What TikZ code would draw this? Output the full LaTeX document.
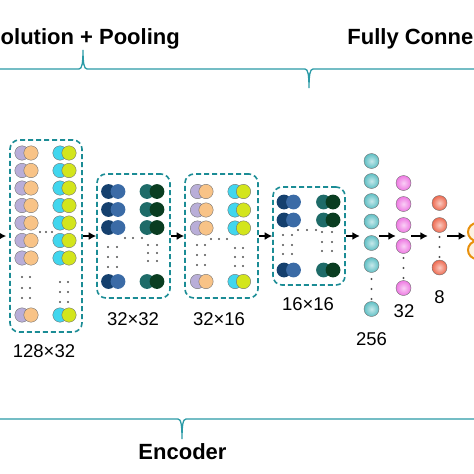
\documentclass[tikz,border=0pt]{standalone}
\usepackage{fontspec}
\setmainfont{Liberation Sans}
\usepackage{xcolor}
\usepackage{tikz}
\usetikzlibrary{arrows.meta,positioning}

\definecolor{lav}{HTML}{B9AED8}
\definecolor{peach}{HTML}{F8C387}
\definecolor{aqua}{HTML}{41D6EE}
\definecolor{lime}{HTML}{D3E51C}
\definecolor{navy}{HTML}{15406E}
\definecolor{steel}{HTML}{3B6BA6}
\definecolor{deepteal}{HTML}{1E6B68}
\definecolor{pine}{HTML}{0A3D21}
\definecolor{rim}{HTML}{707070}
\definecolor{boxteal}{HTML}{1B8C95}
\definecolor{braceteal}{HTML}{2A9AA6}
\definecolor{cyanball}{HTML}{5FBFC4}
\definecolor{pinkball}{HTML}{EE78E2}
\definecolor{salmonball}{HTML}{EE6A50}
\definecolor{orng}{HTML}{E8900C}
\definecolor{dotgray}{HTML}{505050}

\begin{document}
\begin{tikzpicture}[x=1pt,y=-1pt,>=Latex,
  convbox/.style={draw=boxteal,dash pattern=on 5pt off 3pt,line width=1.6pt,
                  rounded corners=9pt,inner sep=0pt},
  layer/.style={inner sep=0pt,minimum width=15pt,minimum height=20pt},
  link/.style={-{Latex[length=7.5pt,width=8pt]},line width=1.8pt},
  dim/.style={font=\fontsize{18.5}{22}\selectfont,inner sep=0pt},
  title/.style={font=\fontsize{22}{26}\selectfont\bfseries,inner sep=0pt},
  brace/.style={draw=braceteal,line width=1.3pt}]
  \useasboundingbox (0,0) rectangle (474,474);
  \clip (0,0) rectangle (474,474);

  % titles and braces
  \node[title,anchor=base west] (conv) at (0.5,44) {olution + Pooling};
  \node[title,anchor=base east] (full) at (473.5,44) {Fully Conne};
  \node[title,anchor=base] (enc) at (182.5,459) {Encoder};
  \draw[brace] (-10,69) -- (79,69) .. controls (82,69) and (83,63) .. (83,50)
    .. controls (83,63) and (84,69) .. (87,69) -- (305,69)
    .. controls (308,69) and (309,75) .. (309,88)
    .. controls (309,75) and (310,69) .. (313,69) -- (484,69);
  \draw[brace] (-10,419) -- (178,419) .. controls (181,419) and (182,425) .. (182,439)
    .. controls (182,425) and (183,419) .. (186,419) -- (484,419);

  % dashed boxes
  \node[convbox,minimum width=72pt,minimum height=192pt] (box1) at (46,236) {};
  \node[convbox,minimum width=73pt,minimum height=124pt] (box2) at (133.5,236) {};
  \node[convbox,minimum width=73pt,minimum height=124pt] (box3) at (221.5,236) {};
  \node[convbox,minimum width=72pt,minimum height=98pt] (box4) at (309,236) {};

  % feature maps
  \foreach \y in {153,170.5,188,205.5,223,240.5,258,315}{
    \filldraw[fill=lav,draw=rim,thin] (22,\y) circle (7.2);
    \filldraw[fill=peach,draw=rim,thin] (31,\y) circle (7.2);
    \filldraw[fill=aqua,draw=rim,thin] (60,\y) circle (7.2);
    \filldraw[fill=lime,draw=rim,thin] (69,\y) circle (7.2);
  }
  \foreach \y in {191.5,209.5,227.5,281.5}{
    \fill[navy] (108.5,\y) circle (7.4);
    \fill[steel] (118,\y) circle (7.4);
    \fill[deepteal] (147,\y) circle (7.4);
    \fill[pine] (157,\y) circle (7.4);
  }
  \foreach \y in {191.5,210,228,281.5}{
    \filldraw[fill=lav,draw=rim,thin] (197.5,\y) circle (7.2);
    \filldraw[fill=peach,draw=rim,thin] (206,\y) circle (7.2);
    \filldraw[fill=aqua,draw=rim,thin] (235,\y) circle (7.2);
    \filldraw[fill=lime,draw=rim,thin] (243.5,\y) circle (7.2);
  }
  \foreach \y in {202,220,270}{
    \fill[navy] (284,\y) circle (7.4);
    \fill[steel] (293.5,\y) circle (7.4);
    \fill[deepteal] (323.5,\y) circle (7.4);
    \fill[pine] (333,\y) circle (7.4);
  }

  % dots
  \foreach \x/\y in {22/277,30/277,22/288,30/288,22/298,30/298,
                    60/282,68/282,60/292,68/292,60/302,68/302,
                    40/232,46/232,52/232,
                    108/247,117/247,108/257,117/257,108/267,117/267,
                    148/245,157/245,148/253,157/253,148/261,157/261,
                    125/238,133/238,142/238,
                    197/245,205/245,197/255,205/255,197/265,205/265,
                    235/248,243/248,235/257,243/257,235/266,243/266,
                    211/239,219/239,227/239,
                    283/235,292/235,283/245,292/245,283/254,292/254,
                    322/232,332/232,322/242,332/242,322/251,332/251,
                    298/230,307/230,316/230}
    \fill[dotgray] (\x,\y) circle (1.1);

  % dense layers
  \node[layer] (fc256) at (371.5,236) {};
  \node[layer] (fc32) at (403.5,236) {};
  \node[layer] (fc8) at (439.5,236) {};
  \foreach \y in {161,181,201,221.5,243,265,309}
    \shade[inner color=cyanball!35!white,outer color=cyanball,draw=rim,thin]
      (371.5,\y) circle (7.5);
  \foreach \y in {183,204,225,246,288}
    \shade[inner color=pinkball!35!white,outer color=pinkball,draw=rim,thin]
      (403.5,\y) circle (7.5);
  \foreach \y in {203,225,267.5}
    \shade[inner color=salmonball!35!white,outer color=salmonball,draw=rim,thin]
      (439.5,\y) circle (7.5);
  \foreach \x/\y in {371.5/279,371.5/289,371.5/299,
                    403.5/258,403.5/268,403.5/278,
                    439.5/237,439.5/247,439.5/257}
    \fill[dotgray] (\x,\y) circle (1.1);

  % output (cut off)
  \draw[orng,line width=2pt,fill=orng!12] (477,232) circle (9) (477,250) circle (9);

  % sizes
  \node[dim] (d1) at (44,351) {128×32};
  \node[dim] (d2) at (133,319) {32×32};
  \node[dim] (d3) at (219,319) {32×16};
  \node[dim] (d4) at (308,304) {16×16};
  \node[dim] (d5) at (371.5,339) {256};
  \node[dim] (d6) at (404,311) {32};
  \node[dim] (d7) at (439.5,297) {8};

  % arrows
  \coordinate (in) at (-12,236);
  \coordinate (out) at (466,236);
  \draw[link,shorten >=3pt] (in) -- (box1.west);
  \draw[link] (box1) -- (box2);
  \draw[link] (box2) -- (box3);
  \draw[link] (box3) -- (box4);
  \draw[link,shorten >=4pt] (box4) -- (fc256);
  \draw[link] (fc256) -- (fc32);
  \draw[link,shorten >=4pt] (fc32) -- (fc8);
  \draw[link] (fc8) -- (out);
\end{tikzpicture}
\end{document}
